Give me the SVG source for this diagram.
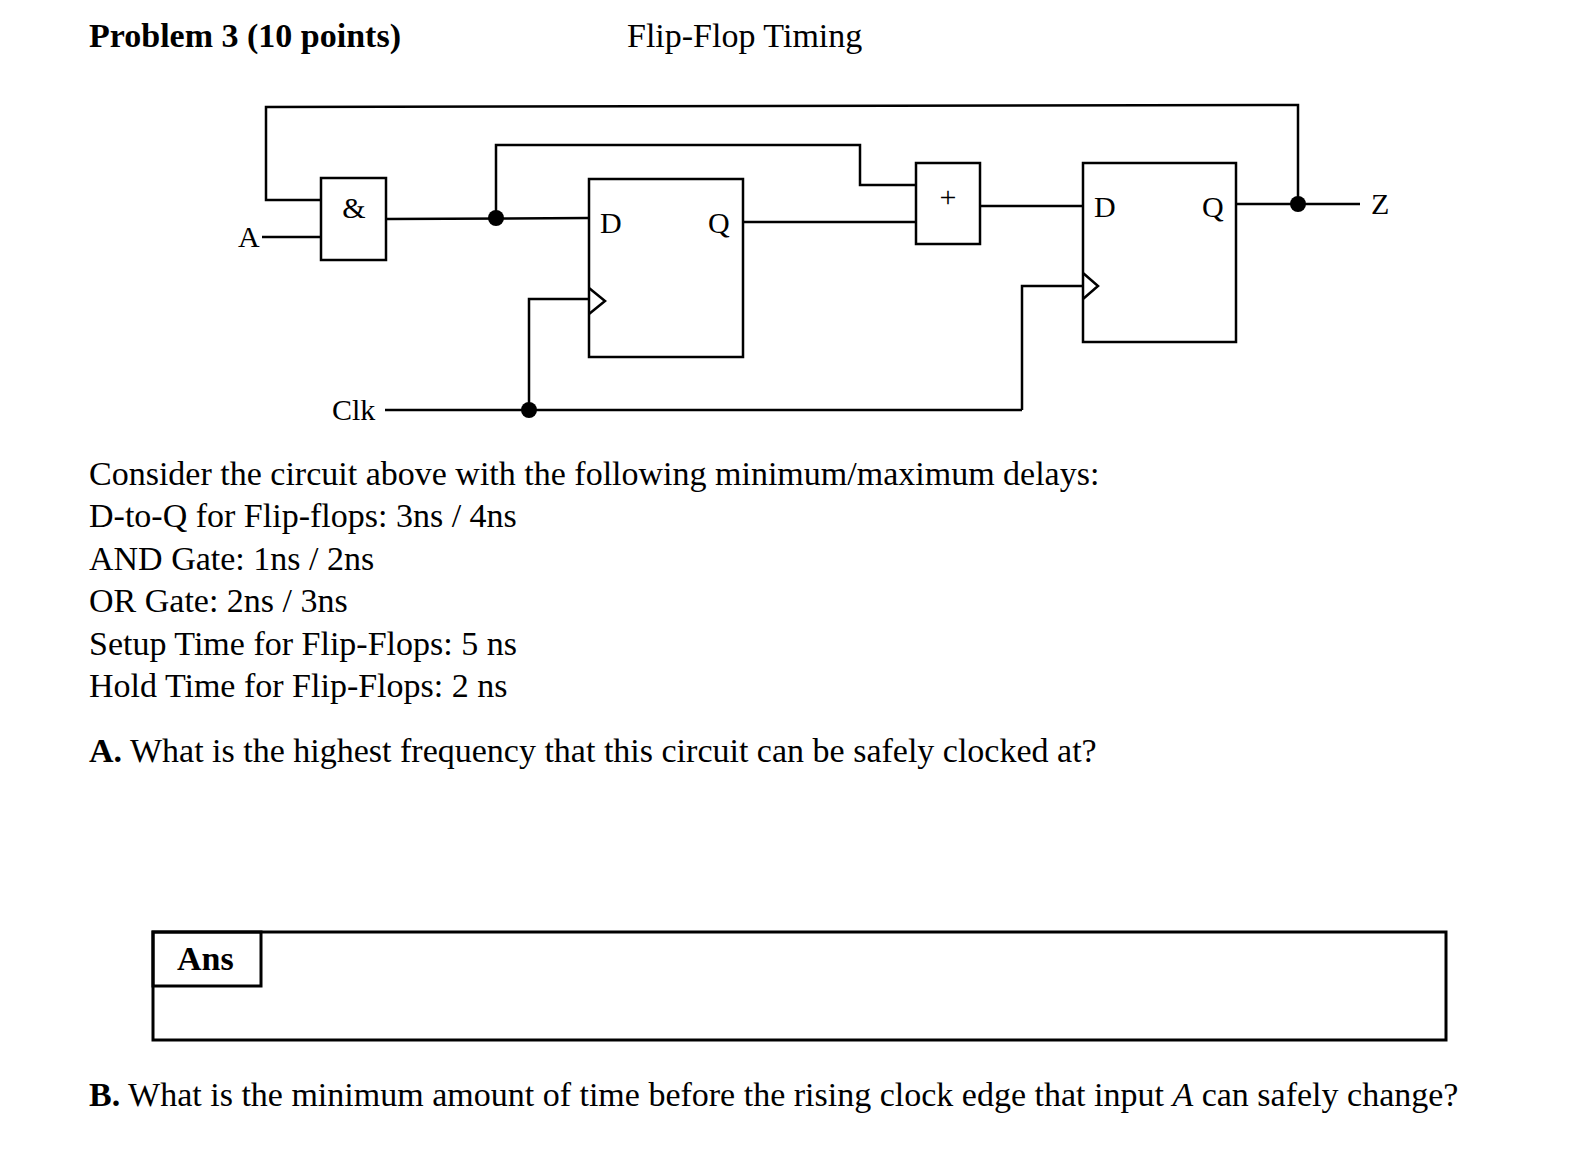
<svg xmlns="http://www.w3.org/2000/svg" width="1572" height="1157" viewBox="0 0 1572 1157">
<style>
text{font-family:"Liberation Serif","Times New Roman",serif;fill:#000}
.t{font-size:34px}
.l{font-size:30px}
.b{font-weight:bold}
.w{fill:none;stroke:#000;stroke-width:2.5}
.box{fill:#fff;stroke:#000;stroke-width:2.5}
</style>
<rect width="1572" height="1157" fill="#fff"/>
<text class="t b" x="89" y="47">Problem 3 (10 points)</text>
<text class="t" x="627" y="47">Flip-Flop Timing</text>
<g id="connectors">
<polyline class="w" points="321,200 266,200 266,107 1298,105 1298,204"/>
<line class="w" x1="262" y1="237" x2="321" y2="237"/>
<line class="w" x1="386" y1="219" x2="589" y2="218"/>
<polyline class="w" points="496,219 496,145 860,145 860,185 916,185"/>
<line class="w" x1="743" y1="222" x2="916" y2="222"/>
<line class="w" x1="980" y1="206" x2="1083" y2="206"/>
<line class="w" x1="1236" y1="204" x2="1360" y2="204"/>
<line class="w" x1="385" y1="410" x2="1022" y2="410"/>
<polyline class="w" points="529,410 529,299 589,299"/>
<polyline class="w" points="1022,410 1022,286 1083,286"/>
<circle cx="496" cy="218" r="8"/>
<circle cx="529" cy="410" r="8"/>
<circle cx="1298" cy="204" r="8"/>
</g>
<g id="and"><rect class="box" x="321" y="178" width="65" height="82"/><text class="l" x="354" y="218" text-anchor="middle">&amp;</text></g>
<g id="ff1"><rect class="box" x="589" y="179" width="154" height="178"/><polyline class="w" points="589,288 605,301 589,314"/><text class="l" x="600" y="233">D</text><text class="l" x="708" y="233">Q</text></g>
<g id="or"><rect class="box" x="916" y="163" width="64" height="81"/><text class="l" x="948" y="207" text-anchor="middle">+</text></g>
<g id="ff2"><rect class="box" x="1083" y="163" width="153" height="179"/><polyline class="w" points="1083,273 1098,286 1083,299"/><text class="l" x="1094" y="217">D</text><text class="l" x="1202" y="217">Q</text></g>
<g id="labels">
<text class="l" x="238" y="247">A</text>
<text class="l" x="332" y="420">Clk</text>
<text class="l" x="1371" y="214">Z</text>
</g>
<text class="t" x="89" y="485">Consider the circuit above with the following minimum/maximum delays:</text>
<text class="t" x="89" y="527">D-to-Q for Flip-flops:  3ns / 4ns</text>
<text class="t" x="89" y="570">AND Gate:  1ns / 2ns</text>
<text class="t" x="89" y="612">OR Gate:  2ns / 3ns</text>
<text class="t" x="89" y="655">Setup Time for Flip-Flops:  5 ns</text>
<text class="t" x="89" y="697">Hold Time for Flip-Flops:   2 ns</text>
<text class="t" x="89" y="762"><tspan class="b">A.</tspan>  What is the highest frequency that this circuit can be safely clocked at?</text>
<g id="ans">
<rect x="153" y="932" width="1293" height="108" fill="none" stroke="#000" stroke-width="3"/>
<rect x="153" y="932" width="108" height="54" fill="none" stroke="#000" stroke-width="3"/>
<text class="t b" x="177" y="970">Ans</text>
</g>
<text class="t" x="89" y="1106"><tspan class="b">B.</tspan>  What is the minimum amount of time before the rising clock edge that input <tspan font-style="italic">A</tspan> can safely change?</text>
</svg>
